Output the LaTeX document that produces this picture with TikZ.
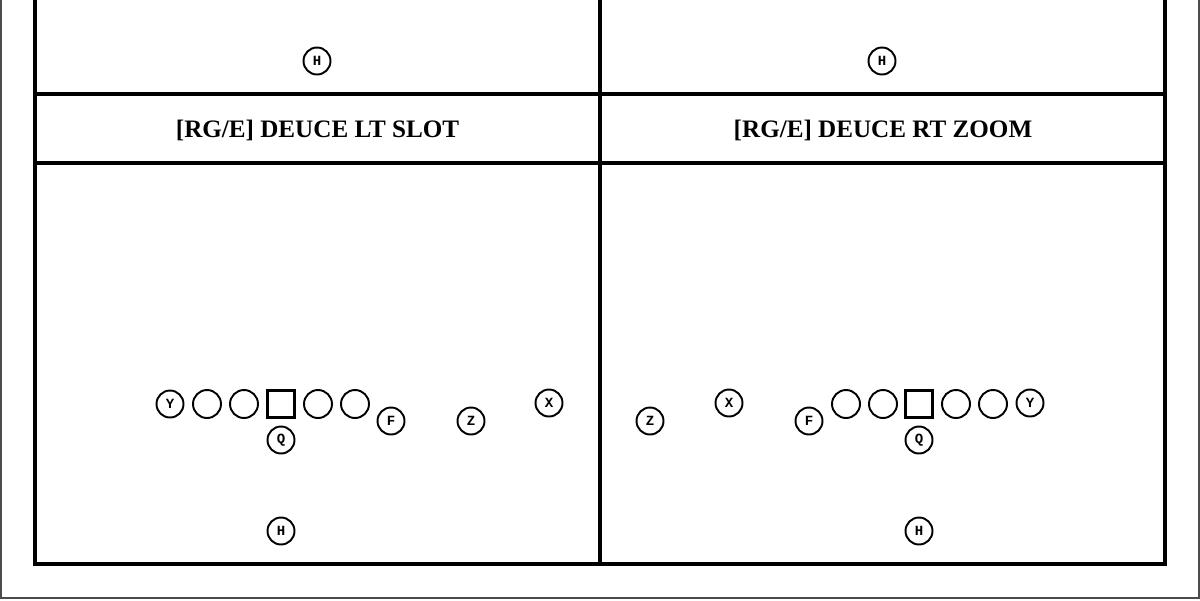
\documentclass[tikz,border=0pt]{standalone}
\usepackage{fontspec}
\setmainfont{Liberation Serif}
\newfontfamily\plfont{Liberation Mono}

\begin{document}
\begin{tikzpicture}
  [x=0.02cm,y=-0.02cm,
  frame/.style={line width=2.3pt},
  ttl/.style={font=\fontsize{14.3}{17}\selectfont\bfseries},
  p/.style={draw,circle,line width=1.1pt,minimum size=0.54cm,inner sep=0pt,font=\plfont\bfseries\fontsize{8}{9}\selectfont},
  ol/.style={draw,circle,line width=1.1pt,minimum size=0.56cm,inner sep=0pt},
  ctr/.style={draw,rectangle,line width=1.2pt,minimum size=0.54cm,inner sep=0pt}]

  \useasboundingbox (0,0) rectangle (1200,600);

  \draw[black!70, line width=0.8pt] (1,-5) -- (1,598) -- (1199,598) -- (1199,-5);

  \draw[frame] (35,-5) -- (35,564) -- (1165,564) -- (1165,-5);
  \draw[frame] (600,-5) -- (600,564);
  \draw[frame] (35,94) -- (1165,94);
  \draw[frame] (35,163) -- (1165,163);

  \node[p] (h1) at (317,61) {H};
  \node[p] (h2) at (882,61) {H};

  \node[ttl] (t1) at (317.5,130) {[RG/E] DEUCE LT SLOT};
  \node[ttl] (t2) at (883,130) {[RG/E] DEUCE RT ZOOM};

  % left: deuce lt slot
  \node[p] (ly) at (170,404) {Y};
  \node[ol] (lt1) at (207,404) {};
  \node[ol] (lg1) at (244,404) {};
  \node[ctr] (lc) at (281,404) {};
  \node[ol] (lg2) at (318,404) {};
  \node[ol] (lt2) at (355,404) {};
  \node[p] (lf) at (391,421) {F};
  \node[p] (lz) at (471,421) {Z};
  \node[p] (lx) at (549,403) {X};
  \node[p] (lq) at (281,440) {Q};
  \node[p] (lh) at (281,531) {H};

  % right: deuce rt zoom
  \node[p] (rz) at (650,421) {Z};
  \node[p] (rx) at (729,403) {X};
  \node[p] (rf) at (809,421) {F};
  \node[ol] (rt1) at (846,404) {};
  \node[ol] (rg1) at (883,404) {};
  \node[ctr] (rc) at (919,404) {};
  \node[ol] (rg2) at (956,404) {};
  \node[ol] (rt2) at (993,404) {};
  \node[p] (ry) at (1030,403) {Y};
  \node[p] (rq) at (919,440) {Q};
  \node[p] (rh) at (919,531) {H};

\end{tikzpicture}
\end{document}
